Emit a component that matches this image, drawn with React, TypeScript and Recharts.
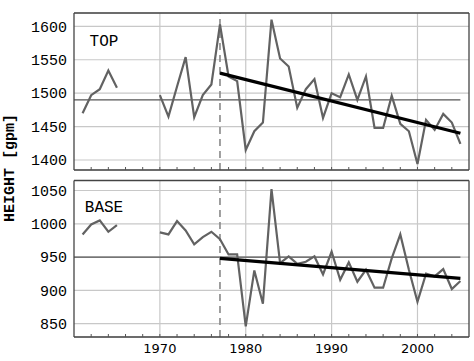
import React from "react";
import {
  LineChart,
  Line,
  XAxis,
  YAxis,
  CartesianGrid,
  ReferenceLine,
  ReferenceArea,
} from "recharts";

const years = [
  1961, 1962, 1963, 1964, 1965, 1966, 1967, 1968, 1969, 1970, 1971, 1972,
  1973, 1974, 1975, 1976, 1977, 1978, 1979, 1980, 1981, 1982, 1983, 1984,
  1985, 1986, 1987, 1988, 1989, 1990, 1991, 1992, 1993, 1994, 1995, 1996,
  1997, 1998, 1999, 2000, 2001, 2002, 2003, 2004, 2005,
];

const topHeights = [
  1470, 1497, 1506, 1534, 1508, null, null, null, null, 1497, 1465, 1510,
  1554, 1464, 1497, 1513, 1603, 1525, 1518, 1415, 1443, 1456, 1610, 1552,
  1540, 1478, 1506, 1521, 1463, 1500, 1494, 1528, 1490, 1525, 1448, 1448,
  1496, 1454, 1443, 1394, 1460, 1445, 1469, 1456, 1424,
];

const baseHeights = [
  984, 999, 1005, 988, 998, null, null, null, null, 987, 984, 1004,
  990, 969, 980, 988, 977, 954, 954, 846, 930, 880, 1052, 941,
  951, 940, 943, 951, 924, 958, 916, 942, 913, 931, 904, 904,
  948, 984, 931, 883, 925, 921, 932, 902, 914,
];

const trendYears = [1977, 2005];
const topTrend = [1530, 1440];
const baseTrend = [948, 918];

const topMean = 1490;
const baseMean = 950;
const meanEndYear = 2005;
const shiftYear = 1977;

const xDomain = [1960, 2006];
const majorTicks = [1970, 1980, 1990, 2000];
const minorTicks = [
  1962, 1964, 1966, 1968, 1970, 1972, 1974, 1976, 1978, 1980, 1982, 1984,
  1986, 1988, 1990, 1992, 1994, 1996, 1998, 2000, 2002, 2004,
];
const topDomain = [1385, 1620];
const topTicks = [1400, 1450, 1500, 1550, 1600];
const baseDomain = [830, 1065];
const baseTicks = [850, 900, 950, 1000, 1050];

const rows = years.map((year, i) => ({
  year,
  top: topHeights[i],
  base: baseHeights[i],
}));
const topTrendRows = trendYears.map((year, i) => ({ year, v: topTrend[i] }));
const baseTrendRows = trendYears.map((year, i) => ({ year, v: baseTrend[i] }));

const mono = "'Liberation Mono', 'DejaVu Sans Mono', monospace";

// small inward tick every 2 years, label only on the decades
const YearTick = (props: any) => {
  const { x, y, payload, showLabel } = props;
  const isMajor = majorTicks.includes(payload.value);
  return (
    <g>
      <line x1={x} x2={x} y1={y} y2={y - 3} stroke="#555" strokeWidth={1} />
      {showLabel && isMajor ? (
        <text
          x={x}
          y={y + 16}
          textAnchor="middle"
          fill="#000"
          fontSize={13}
          fontFamily="'DejaVu Sans', sans-serif"
        >
          {payload.value}
        </text>
      ) : null}
    </g>
  );
};

function Panel(props: {
  dataKey: string;
  domain: number[];
  ticks: number[];
  mean: number;
  trend: { year: number; v: number }[];
  showXLabels: boolean;
  height: number;
  marginTop: number;
}) {
  const { dataKey, domain, ticks, mean, trend, showXLabels, height, marginTop } = props;
  return (
    <LineChart
      width={474}
      height={height}
      data={rows}
      margin={{ top: marginTop, right: 5, bottom: 0, left: 0 }}
    >
      <CartesianGrid stroke="#c8c8c8" strokeWidth={1.2} vertical={false} />
      {majorTicks.map((t) => (
        <ReferenceLine key={t} x={t} stroke="#c8c8c8" strokeWidth={1.2} />
      ))}
      <XAxis
        dataKey="year"
        type="number"
        domain={xDomain}
        ticks={minorTicks}
        allowDataOverflow
        height={24}
        axisLine={{ stroke: "#444", strokeWidth: 1.3 }}
        tickLine={false}
        tickSize={0}
        tickMargin={0}
        tick={<YearTick showLabel={showXLabels} />}
        interval={0}
      />
      <YAxis
        type="number"
        domain={domain}
        ticks={ticks}
        allowDataOverflow
        width={74}
        axisLine={{ stroke: "#444", strokeWidth: 1.3 }}
        tickLine={false}
        tickSize={0}
        tickMargin={7}
        interval={0}
        tick={{ fill: "#000", fontSize: 15, fontFamily: mono }}
      />
      <ReferenceLine
        segment={[
          { x: xDomain[0], y: mean },
          { x: meanEndYear, y: mean },
        ]}
        stroke="#555"
        strokeWidth={1.3}
      />
      <ReferenceLine
        x={shiftYear}
        stroke="#888"
        strokeWidth={1.6}
        strokeDasharray="7 5"
      />
      <ReferenceLine y={domain[1]} stroke="#444" strokeWidth={1.3} />
      <ReferenceLine x={xDomain[1]} stroke="#444" strokeWidth={1.3} />
      <Line
        dataKey={dataKey}
        stroke="#626262"
        strokeWidth={2.2}
        dot={false}
        isAnimationActive={false}
      />
      <Line
        data={trend}
        dataKey="v"
        stroke="#000"
        strokeWidth={3.2}
        dot={false}
        isAnimationActive={false}
      />
    </LineChart>
  );
}

export default function App() {
  return (
    <div
      style={{
        position: "absolute",
        left: 0,
        top: 0,
        width: 474,
        height: 361,
        background: "#fff",
      }}
    >
      <div style={{ position: "absolute", left: 0, top: 0 }}>
        <Panel
          dataKey="top"
          domain={topDomain}
          ticks={topTicks}
          mean={topMean}
          trend={topTrendRows}
          showXLabels={false}
          height={194}
          marginTop={13}
        />
      </div>
      <div style={{ position: "absolute", left: 0, top: 168 }}>
        <Panel
          dataKey="base"
          domain={baseDomain}
          ticks={baseTicks}
          mean={baseMean}
          trend={baseTrendRows}
          showXLabels={true}
          height={193}
          marginTop={12.5}
        />
      </div>
      <svg
        width={474}
        height={361}
        style={{ position: "absolute", left: 0, top: 0, pointerEvents: "none" }}
      >
        <text
          x={104}
          y={42}
          textAnchor="middle"
          dominantBaseline="central"
          fontFamily={mono}
          fontSize={16}
          fill="#000"
        >
          TOP
        </text>
        <text
          x={104}
          y={208}
          textAnchor="middle"
          dominantBaseline="central"
          fontFamily={mono}
          fontSize={16}
          fill="#000"
        >
          BASE
        </text>
        <text
          transform="translate(10,168) rotate(-90)"
          textAnchor="middle"
          dominantBaseline="central"
          fontFamily={mono}
          fontSize={15}
          fontWeight="bold"
          fill="#000"
        >
          HEIGHT [gpm]
        </text>
      </svg>
    </div>
  );
}
